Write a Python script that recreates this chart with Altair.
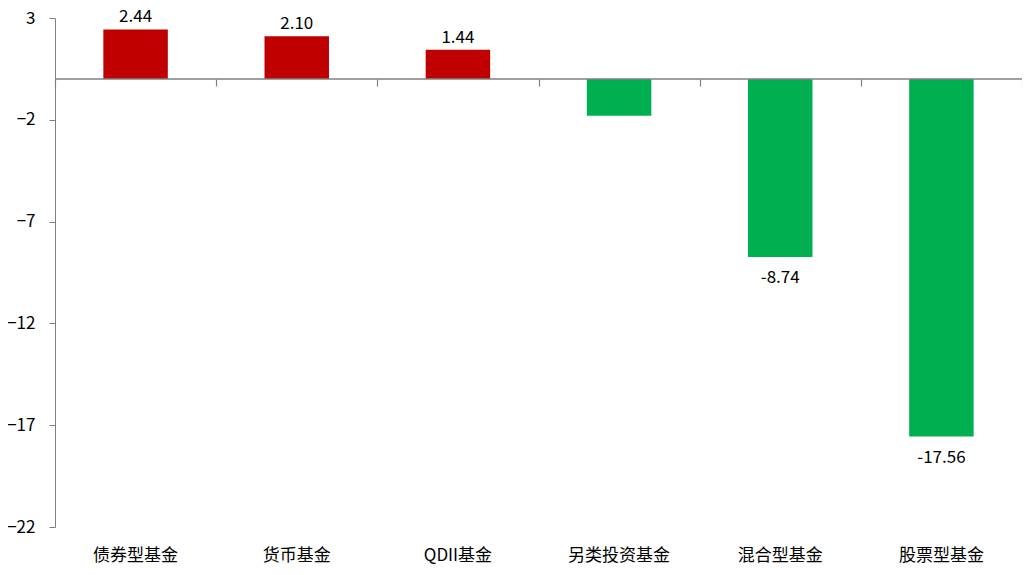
import altair as alt
import pandas as pd

categories = ["债券型基金", "货币基金", "QDII基金", "另类投资基金", "混合型基金", "股票型基金"]
values = [2.44, 2.10, 1.44, -1.80, -8.74, -17.56]
labels = ["2.44", "2.10", "1.44", "", "-8.74", "-17.56"]
y_ticks = [3, -2, -7, -12, -17, -22]

df = pd.DataFrame({"cat": categories, "val": values, "lab": labels})

FONT = "Noto Sans CJK SC"
GRAY = "#808080"

x_scale = alt.Scale(domain=categories, paddingInner=0, paddingOuter=0)
y_scale = alt.Scale(domain=[-22, 3], nice=False, zero=False)

base = alt.Chart(df)

bars = base.mark_bar(width=alt.RelativeBandSize(0.4)).encode(
    x=alt.X("cat:N", scale=x_scale, sort=categories,
            axis=alt.Axis(title=None, orient="bottom", domain=False, ticks=False,
                          labelAngle=0, labelPadding=20, labelFontSize=17,
                          labelFont=FONT, labelColor="#000000")),
    y=alt.Y("val:Q", scale=y_scale,
            axis=alt.Axis(title=None, values=y_ticks, grid=False, domainColor=GRAY,
                          tickColor=GRAY, tickSize=6, labelFontSize=17, labelFont=FONT,
                          labelColor="#000000", labelPadding=14)),
    color=alt.condition("datum.val >= 0", alt.value("#C00000"), alt.value("#00B050")),
)

zero_axis = base.mark_rule(color=GRAY, strokeWidth=1.5).encode(
    x=alt.X("cat:N", scale=x_scale, sort=categories,
            axis=alt.Axis(title=None, orient="bottom", offset=-448, labels=False,
                          domain=False, ticks=True, tickBand="extent", tickSize=7,
                          tickColor=GRAY, tickWidth=1.2)),
    y=alt.datum(0, scale=y_scale),
    opacity=alt.value(0),
)

zero_line = alt.Chart(pd.DataFrame({"z": [0]})).mark_rule(color=GRAY, strokeWidth=1.5).encode(
    y=alt.Y("z:Q", scale=y_scale)
)

txt_pos = base.transform_filter("datum.val >= 0").mark_text(
    baseline="middle", dy=-12, fontSize=17, font=FONT, color="#000000"
).encode(x=alt.X("cat:N", sort=categories, axis=None), y=alt.Y("val:Q"), text="lab:N")

txt_neg = base.transform_filter("datum.val < 0").mark_text(
    baseline="middle", dy=21, fontSize=17, font=FONT, color="#000000"
).encode(x=alt.X("cat:N", sort=categories, axis=None), y=alt.Y("val:Q"), text="lab:N")

chart = alt.layer(bars, zero_axis, zero_line, txt_pos, txt_neg).resolve_axis(
    x="independent"
).properties(
    width=967, height=509,
    autosize=alt.AutoSizeParams(type="none"),
    padding={"left": 47, "top": 10, "right": 0, "bottom": 40},
).configure_view(stroke=None)

chart.save("out.html", embed_options={"renderer": "svg", "actions": False})
